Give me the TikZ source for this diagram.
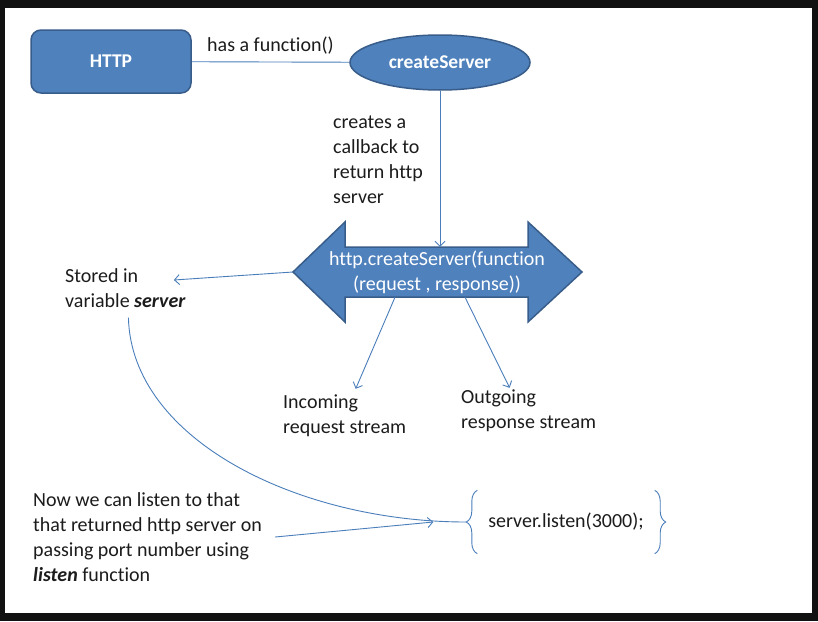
\documentclass[tikz,border=0pt]{standalone}
\usepackage{fontspec}
\setmainfont{Carlito}[Ligatures=NoCommon]
\usetikzlibrary{shapes.geometric,decorations.pathreplacing,arrows.meta}
\definecolor{boxblue}{HTML}{4F81BD}
\definecolor{boxedge}{HTML}{385D8A}
\definecolor{linkblue}{HTML}{4A7EBB}
\definecolor{inkgrey}{HTML}{1C1C1C}
\definecolor{frame}{HTML}{111111}
\tikzset{
  bluebox/.style={fill=boxblue, draw=boxedge, line width=1.5pt, text=white,
    font=\fontsize{19.5}{23}\selectfont\bfseries},
  note/.style={inner sep=0pt, align=left, text=inkgrey,
    font=\fontsize{20}{25}\selectfont},
  link/.style={draw=linkblue, line width=0.9pt},
  linkarrow/.style={link, -{Straight Barb[length=5pt,width=10pt]}},
  curly/.style={link, decorate, decoration={brace, amplitude=11pt}}
}
\begin{document}
\begin{tikzpicture}[x=1pt, y=-1pt]
  \fill[frame] (0,0) rectangle (818,621);
  \fill[white] (5,8) rectangle (812,613);

  \node[bluebox, rounded corners=10pt, minimum width=160, minimum height=63] (http) at (111,61.5) {HTTP};
  \node[bluebox, ellipse, inner sep=0pt, minimum width=180, minimum height=55] (create) at (440,62.5) {createServer};
  \draw[link] (http) -- node[note, midway, above=7pt] (hasfn) {has a function()} (create);

  \node[note, anchor=west] (why) at (333,160) {creates a\\callback to\\return http\\server};

  % the big double arrow
  \coordinate (ltip) at (293,272);
  \coordinate (rtip) at (582,272);
  \filldraw[fill=boxblue, draw=boxedge, line width=1.5pt, line join=miter]
    (ltip) -- (345,222) -- (345,247) -- (528,247) -- (528,222) -- (rtip)
    -- (528,322) -- (528,297) -- (345,297) -- (345,322) -- cycle;
  \node[note, align=center, text=white, minimum width=183, minimum height=50] (callback) at (437,272)
    {http.createServer(function\\(request , response))};
  \draw[linkarrow] (create.south) -- (create.south |- callback.north);

  \node[note, anchor=west] (stored) at (65,288) {Stored in\\variable \textbf{\textit{server}}};
  \node[note, anchor=west] (incoming) at (283,416) {Incoming\\request stream};
  \node[note, anchor=west] (outgoing) at (461,411) {Outgoing\\response stream};
  \draw[linkarrow] (ltip) -- ([shift={(-12,-8)}]stored.east);
  \draw[linkarrow] ([xshift=-42]callback.south) -- ([shift={(11,-6)}]incoming.north);
  \draw[linkarrow] ([xshift=28]callback.south) -- ([shift={(-19,-2)}]outgoing.north);

  \node[note, anchor=west] (explain) at (33,537) {Now we can listen to that\\that returned http server on\\passing port number using\\\textbf{\textit{listen}} function};
  \node[note, minimum width=177, minimum height=63] (listen) at (566,522) {server.listen(3000);};
  \draw[curly] (listen.south west) -- (listen.north west);
  \draw[curly] (listen.north east) -- (listen.south east);
  \coordinate (bl) at ([xshift=-11]listen.west);

  \draw[link] ([shift={(3,10)}]stored.south) .. controls +(3,122) and +(-168,0) .. (bl);
  \draw[linkarrow] ([xshift=13]explain.east) -- ([xshift=-33]bl);
\end{tikzpicture}
\end{document}
